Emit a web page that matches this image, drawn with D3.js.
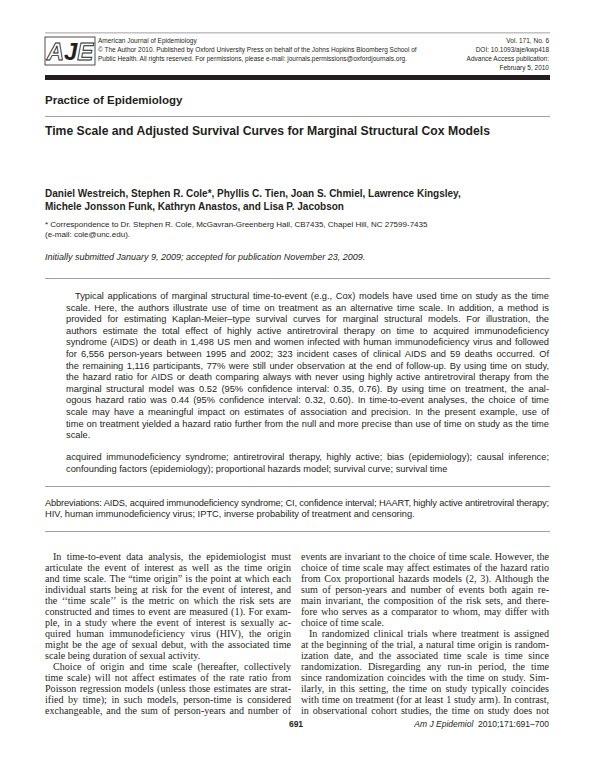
<!DOCTYPE html>
<html>
<head>
<meta charset="utf-8">
<script src="https://cdn.jsdelivr.net/npm/d3@7"></script>
<style>
  body { margin: 0; background: #fff; }
</style>
</head>
<body>
<div id="page"></div>
<script>
// text of the page, line by line as set in the reference
const headerLeft = [
  "American Journal of Epidemiology",
  "© The Author 2010. Published by Oxford University Press on behalf of the Johns Hopkins Bloomberg School of",
  "Public Health. All rights reserved. For permissions, please e-mail: journals.permissions@oxfordjournals.org."
];
const headerRight = [
  "Vol. 171, No. 6",
  "DOI: 10.1093/aje/kwp418",
  "Advance Access publication:",
  "February 5, 2010"
];
const section = "Practice of Epidemiology";
const title = "Time Scale and Adjusted Survival Curves for Marginal Structural Cox Models";
const authors = [
  "Daniel Westreich, Stephen R. Cole*, Phyllis C. Tien, Joan S. Chmiel, Lawrence Kingsley,",
  "Michele Jonsson Funk, Kathryn Anastos, and Lisa P. Jacobson"
];
const correspondence = [
  "* Correspondence to Dr. Stephen R. Cole, McGavran-Greenberg Hall, CB7435, Chapel Hill, NC 27599-7435",
  "(e-mail: cole@unc.edu)."
];
const submitted = "Initially submitted January 9, 2009; accepted for publication November 23, 2009.";

const abstractLines = [
  "Typical applications of marginal structural time-to-event (e.g., Cox) models have used time on study as the time",
  "scale. Here, the authors illustrate use of time on treatment as an alternative time scale. In addition, a method is",
  "provided for estimating Kaplan-Meier–type survival curves for marginal structural models. For illustration, the",
  "authors estimate the total effect of highly active antiretroviral therapy on time to acquired immunodeficiency",
  "syndrome (AIDS) or death in 1,498 US men and women infected with human immunodeficiency virus and followed",
  "for 6,556 person-years between 1995 and 2002; 323 incident cases of clinical AIDS and 59 deaths occurred. Of",
  "the remaining 1,116 participants, 77% were still under observation at the end of follow-up. By using time on study,",
  "the hazard ratio for AIDS or death comparing always with never using highly active antiretroviral therapy from the",
  "marginal structural model was 0.52 (95% confidence interval: 0.35, 0.76). By using time on treatment, the anal-",
  "ogous hazard ratio was 0.44 (95% confidence interval: 0.32, 0.60). In time-to-event analyses, the choice of time",
  "scale may have a meaningful impact on estimates of association and precision. In the present example, use of",
  "time on treatment yielded a hazard ratio further from the null and more precise than use of time on study as the time",
  "scale."
];
const keywordLines = [
  "acquired immunodeficiency syndrome; antiretroviral therapy, highly active; bias (epidemiology); causal inference;",
  "confounding factors (epidemiology); proportional hazards model; survival curve; survival time"
];
const abbrevLines = [
  "Abbreviations: AIDS, acquired immunodeficiency syndrome; CI, confidence interval; HAART, highly active antiretroviral therapy;",
  "HIV, human immunodeficiency virus; IPTC, inverse probability of treatment and censoring."
];

const leftColumn = [
  "In time-to-event data analysis, the epidemiologist must",
  "articulate the event of interest as well as the time origin",
  "and time scale. The “time origin” is the point at which each",
  "individual starts being at risk for the event of interest, and",
  "the ‘‘time scale’’ is the metric on which the risk sets are",
  "constructed and times to event are measured (1). For exam-",
  "ple, in a study where the event of interest is sexually ac-",
  "quired human immunodeficiency virus (HIV), the origin",
  "might be the age of sexual debut, with the associated time",
  "scale being duration of sexual activity.",
  "Choice of origin and time scale (hereafter, collectively",
  "time scale) will not affect estimates of the rate ratio from",
  "Poisson regression models (unless those estimates are strat-",
  "ified by time); in such models, person-time is considered",
  "exchangeable, and the sum of person-years and number of"
];
const leftIndents = [0, 10];
const leftEnds = [9];

const rightColumn = [
  "events are invariant to the choice of time scale. However, the",
  "choice of time scale may affect estimates of the hazard ratio",
  "from Cox proportional hazards models (2, 3). Although the",
  "sum of person-years and number of events both again re-",
  "main invariant, the composition of the risk sets, and there-",
  "fore who serves as a comparator to whom, may differ with",
  "choice of time scale.",
  "In randomized clinical trials where treatment is assigned",
  "at the beginning of the trial, a natural time origin is random-",
  "ization date, and the associated time scale is time since",
  "randomization. Disregarding any run-in period, the time",
  "since randomization coincides with the time on study. Sim-",
  "ilarly, in this setting, the time on study typically coincides",
  "with time on treatment (for at least 1 study arm). In contrast,",
  "in observational cohort studies, the time on study does not"
];
const rightIndents = [7];
const rightEnds = [6];

const pageNumber = "691";
const journalCite = "Am J Epidemiol";
const citeRest = "2010;171:691–700";

const W = 594, H = 783;
const ink = "#231f20";
const rule = "#8a8a8a";
const sans = "'Liberation Sans', Arial, sans-serif";
const serif = "'Liberation Serif', 'Times New Roman', serif";
const L = 45, R = 549;

const svg = d3.select("#page").append("svg")
  .attr("width", W)
  .attr("height", H);

// spread the words of a line so that it fills x0..x1
function justify(text, line, x0, x1) {
  const words = line.split(" ");
  text.text(null);
  const spans = words.map(w => text.append("tspan").text(w));
  const widths = spans.map(s => s.node().getComputedTextLength());
  const gap = (x1 - x0 - d3.sum(widths)) / Math.max(1, words.length - 1);
  if (gap < 1.4) {
    // too tight: squeeze the whole line instead
    text.text(line)
      .attr("textLength", x1 - x0)
      .attr("lengthAdjust", "spacing");
    return;
  }
  let x = x0;
  spans.forEach((s, i) => {
    s.attr("x", x);
    x += widths[i] + gap;
  });
}

function block(lines, o) {
  const y = d3.scaleLinear().domain([0, 1]).range([o.y0, o.y0 + o.dy]);
  const g = svg.append("g")
    .attr("font-family", o.font)
    .attr("font-size", o.size)
    .attr("font-style", o.style || "normal")
    .attr("font-weight", o.weight || "normal")
    .attr("fill", ink);
  g.selectAll("text")
    .data(lines)
    .join("text")
    .attr("x", (d, i) => o.x0 + ((o.indents || []).includes(i) ? o.indent : 0))
    .attr("y", (d, i) => y(i))
    .each(function (d, i) {
      const t = d3.select(this);
      const x0 = +t.attr("x");
      if (o.justify && !(o.ends || []).includes(i)) justify(t, d, x0, o.x1);
      else t.text(d);
    });
  return g;
}

function hrule(y, w, color) {
  svg.append("rect")
    .attr("x", L)
    .attr("y", y)
    .attr("width", R - L + 1)
    .attr("height", w)
    .attr("fill", color);
}

// ---- masthead
hrule(32.5, 0.8, rule);
const logo = svg.append("g").attr("transform", `translate(${L},37)`);
logo.append("rect")
  .attr("width", 50).attr("height", 28)
  .attr("fill", "#fff").attr("stroke", ink).attr("stroke-width", 0.8);
logo.append("text")
  .attr("x", 25).attr("y", 23)
  .attr("text-anchor", "middle")
  .attr("font-family", sans)
  .attr("font-size", 24)
  .attr("font-style", "italic")
  .attr("font-weight", "bold")
  .selectAll("tspan")
  .data(["A", "J", "E"])
  .join("tspan")
  .attr("fill", d => (d === "J" ? ink : "#fff"))
  .attr("stroke", ink)
  .attr("stroke-width", d => (d === "J" ? 0 : 0.9))
  .text(d => d);

block(headerLeft, { font: sans, size: 6.5, x0: 98, y0: 43, dy: 9 });
block(headerRight, { font: sans, size: 6.5, x0: R, y0: 43, dy: 9 })
  .attr("text-anchor", "end");
hrule(75, 5, ink);

// ---- section and title
block([section], { font: sans, size: 11.5, weight: "bold", x0: L, y0: 104, dy: 0 });
hrule(116, 0.8, rule);
block([title], { font: sans, size: 12.2, weight: "bold", x0: L, y0: 135, dy: 0 });

// ---- authors
block(authors, { font: sans, size: 10, weight: "bold", x0: L, y0: 196.5, dy: 13 });
block(correspondence, { font: sans, size: 8, x0: L, y0: 226.5, dy: 10 });
block([submitted], { font: sans, size: 9, style: "italic", x0: L, y0: 260, dy: 0 });
hrule(278, 0.8, rule);

// ---- abstract
block(abstractLines, {
  font: sans, size: 9.3, x0: 66, x1: R, y0: 299, dy: 11.6,
  justify: true, indents: [0], indent: 9, ends: [12]
});
block(keywordLines, {
  font: sans, size: 9.3, x0: 66, x1: R, y0: 460, dy: 11.6,
  justify: true, ends: [1]
});
hrule(486, 0.8, rule);
block(abbrevLines, {
  font: sans, size: 9.3, x0: L, x1: R, y0: 506, dy: 11.2,
  justify: true, ends: [1]
});
hrule(531, 0.8, rule);

// ---- body text, two columns
const bodyOpt = { font: serif, size: 10.1, y0: 560, dy: 11, justify: true, indent: 8 };
block(leftColumn, Object.assign({}, bodyOpt, { x0: L, x1: 291, indents: leftIndents, ends: leftEnds }));
block(rightColumn, Object.assign({}, bodyOpt, { x0: 301, x1: R, indents: rightIndents, ends: rightEnds }));

// ---- footer
block([pageNumber], { font: sans, size: 8.5, weight: "bold", x0: 296, y0: 727, dy: 0 })
  .attr("text-anchor", "middle");
const cite = svg.append("text")
  .attr("x", R).attr("y", 727)
  .attr("text-anchor", "end")
  .attr("font-family", sans)
  .attr("font-size", 8.5)
  .attr("fill", ink);
cite.append("tspan").attr("font-style", "italic").text(journalCite);
cite.append("tspan").text("\u00a0\u00a0" + citeRest);
</script>
</body>
</html>
